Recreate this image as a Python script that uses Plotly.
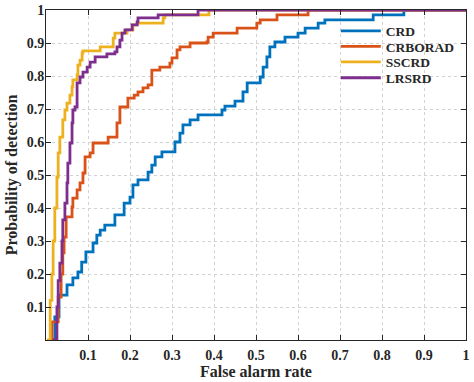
import plotly.graph_objects as go

# ROC curve vertices (false alarm rate, probability of detection)
crd_fpr = [0.014, 0.021, 0.031, 0.045, 0.05, 0.062, 0.064, 0.076, 0.085, 0.095, 0.105, 0.112, 0.121, 0.129,
           0.14, 0.162, 0.164, 0.181, 0.186, 0.2, 0.207, 0.219, 0.24, 0.243, 0.252, 0.26, 0.276, 0.302,
           0.307, 0.319, 0.326, 0.338, 0.343, 0.362, 0.414, 0.419, 0.426, 0.445, 0.45, 0.462, 0.469, 0.479,
           0.502, 0.51, 0.517, 0.526, 0.533, 0.545, 0.564, 0.569, 0.598, 0.6, 0.617, 0.645, 0.648, 0.664,
           0.776, 0.779, 0.85, 0.852, 1.0]
crd_tpr = [0.0, 0.07, 0.136, 0.136, 0.167, 0.167, 0.188, 0.206, 0.236, 0.267, 0.267, 0.294, 0.318, 0.333,
           0.348, 0.348, 0.379, 0.379, 0.415, 0.433, 0.47, 0.485, 0.485, 0.509, 0.53, 0.555, 0.57, 0.57,
           0.6, 0.627, 0.652, 0.652, 0.667, 0.682, 0.682, 0.697, 0.709, 0.709, 0.724, 0.724, 0.752, 0.779,
           0.779, 0.797, 0.827, 0.858, 0.888, 0.903, 0.903, 0.918, 0.918, 0.93, 0.945, 0.945, 0.96, 0.97,
           0.97, 0.985, 0.985, 1.0, 1.0]

crborad_fpr = [0.01, 0.014, 0.021, 0.029, 0.036, 0.04, 0.043, 0.048, 0.057, 0.062, 0.064, 0.074, 0.081,
               0.088, 0.093, 0.105, 0.112, 0.145, 0.148, 0.164, 0.169, 0.176, 0.188, 0.195, 0.21, 0.219,
               0.231, 0.243, 0.252, 0.271, 0.295, 0.3, 0.312, 0.319, 0.343, 0.383, 0.386, 0.398, 0.45,
               0.455, 0.498, 0.502, 0.51, 0.548, 0.55, 0.621, 0.624, 1.0]
crborad_tpr = [0.0, 0.055, 0.055, 0.13, 0.2, 0.264, 0.312, 0.373, 0.373, 0.403, 0.43, 0.455, 0.476,
               0.506, 0.555, 0.567, 0.597, 0.597, 0.615, 0.615, 0.658, 0.706, 0.706, 0.733, 0.742, 0.752,
               0.764, 0.773, 0.818, 0.827, 0.839, 0.855, 0.879, 0.888, 0.9, 0.903, 0.918, 0.93, 0.93,
               0.945, 0.945, 0.96, 0.97, 0.97, 0.985, 0.985, 1.0, 1.0]

sscrd_fpr = [0.002, 0.01, 0.014, 0.017, 0.021, 0.026, 0.029, 0.033, 0.04, 0.045, 0.05, 0.057, 0.062,
             0.064, 0.074, 0.076, 0.081, 0.086, 0.088, 0.124, 0.129, 0.155, 0.16, 0.164, 0.19, 0.193,
             0.205, 0.207, 0.217, 0.276, 0.279, 0.283, 0.386, 0.388, 1.0]
sscrd_tpr = [0.0, 0.12, 0.2, 0.3, 0.4, 0.494, 0.567, 0.615, 0.667, 0.697, 0.718, 0.742, 0.767,
             0.788, 0.803, 0.833, 0.848, 0.87, 0.876, 0.876, 0.888, 0.888, 0.915, 0.93, 0.93, 0.94,
             0.94, 0.955, 0.96, 0.96, 0.976, 0.985, 0.985, 1.0, 1.0]

lrsrd_fpr = [0.017, 0.026, 0.029, 0.033, 0.038, 0.04, 0.045, 0.05, 0.052, 0.057, 0.062, 0.064, 0.069,
             0.074, 0.081, 0.088, 0.098, 0.105, 0.117, 0.14, 0.145, 0.164, 0.169, 0.176, 0.181, 0.188,
             0.205, 0.217, 0.219, 0.264, 0.267, 0.36, 0.362, 1.0]
lrsrd_tpr = [0.0, 0.1, 0.18, 0.233, 0.3, 0.364, 0.415, 0.476, 0.536, 0.597, 0.658, 0.697, 0.706,
             0.779, 0.797, 0.812, 0.827, 0.842, 0.858, 0.858, 0.867, 0.873, 0.888, 0.909, 0.93, 0.94,
             0.955, 0.964, 0.976, 0.976, 0.985, 0.985, 1.0, 1.0]

names = ["CRD", "CRBORAD", "SSCRD", "LRSRD"]
colors = ["#0072BD", "#D95319", "#EDB120", "#7E2F8E"]
series_x = [crd_fpr, crborad_fpr, sscrd_fpr, lrsrd_fpr]
series_y = [crd_tpr, crborad_tpr, sscrd_tpr, lrsrd_tpr]

tick_vals = [0.1, 0.2, 0.3, 0.4, 0.5, 0.6, 0.7, 0.8, 0.9, 1.0]
tick_text = ["0.1", "0.2", "0.3", "0.4", "0.5", "0.6", "0.7", "0.8", "0.9", "1"]

FONT = "Liberation Serif"
TXT = "#262626"

# one legend per entry so rows can sit as close together as in the reference
legend_ids = ["legend", "legend2", "legend3", "legend4"]
legend_rows = [0.936, 0.889, 0.842, 0.794]

fig = go.Figure()
for n, c, xs, ys, lg in zip(names, colors, series_x, series_y, legend_ids):
    fig.add_trace(go.Scatter(x=xs, y=ys, mode="lines", name=n, legend=lg,
                             line=dict(color=c, width=2.8, shape="hv")))

axis_common = dict(
    range=[0, 1], tickvals=tick_vals, ticktext=tick_text,
    ticks="inside", ticklen=5, tickwidth=1, tickcolor=TXT,
    showline=True, linecolor=TXT, linewidth=1, mirror="ticks",
    showgrid=True, gridcolor="#d2d2d2", gridwidth=1, griddash="dot",
    zeroline=False, automargin=False, ticklabeloverflow="allow",
    tickfont=dict(family=FONT, size=14, color=TXT, weight="bold"),
)

legend_style = dict(xanchor="left", yanchor="middle", bgcolor="rgba(0,0,0,0)", borderwidth=0,
                    font=dict(family=FONT, size=13.5, color=TXT, weight="bold"), itemwidth=40)

layout_legends = {}
for lg, ry in zip(legend_ids, legend_rows):
    layout_legends[lg] = dict(x=0.69, y=ry, **legend_style)

fig.update_layout(
    width=474, height=382,
    margin=dict(l=46, r=8, t=10, b=42),
    plot_bgcolor="white", paper_bgcolor="white",
    font=dict(family=FONT, size=14, color=TXT),
    xaxis=dict(**axis_common, ticklabelstandoff=2,
               title=dict(text="False alarm rate", standoff=1,
                          font=dict(family=FONT, size=16, color=TXT, weight="bold"))),
    yaxis=dict(**axis_common, ticklabelstandoff=-2,
               title=dict(text="Probability of detection", standoff=5,
                          font=dict(family=FONT, size=16, color=TXT, weight="bold"))),
    showlegend=True,
    **layout_legends,
)

# remove the page's default body margin so the figure fills the window exactly
fig.write_html("out.html",
               config={"displayModeBar": False},
               post_script="document.body.style.margin='0';document.body.style.overflow='hidden';")
